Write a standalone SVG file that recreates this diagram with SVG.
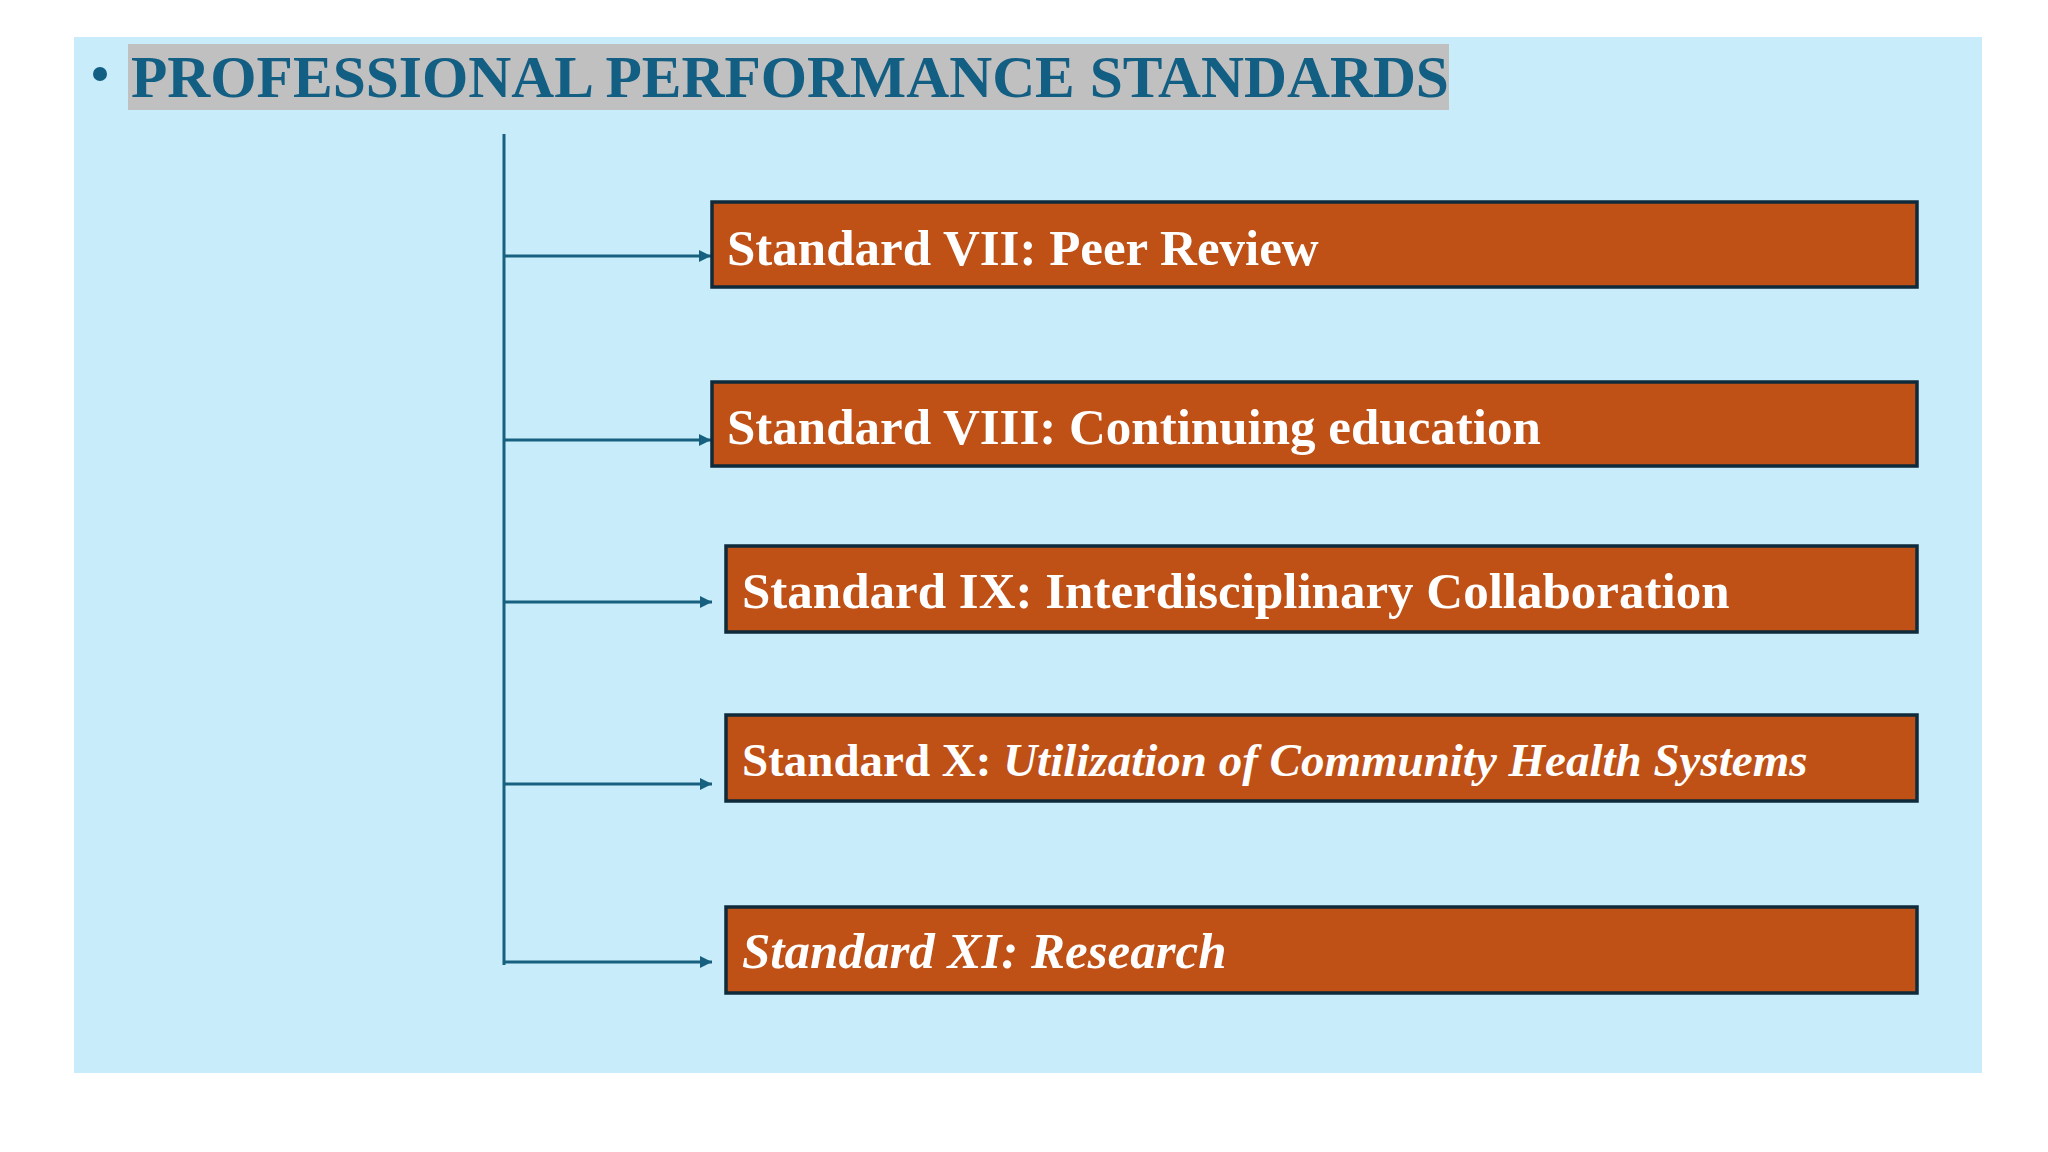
<svg xmlns="http://www.w3.org/2000/svg" width="2048" height="1152" viewBox="0 0 2048 1152">
  <defs>
    <marker id="arrow" viewBox="0 0 12 12" refX="12" refY="6" markerWidth="12" markerHeight="12" markerUnits="userSpaceOnUse" orient="auto">
      <path d="M0,0 L12,6 L0,12 Z" fill="#17607F"/>
    </marker>
    <style>
      .box { fill: #BF5016; stroke: #0F2A3A; stroke-width: 3.5; }
      .lbl { font-family: "Liberation Serif", "Times New Roman", serif; font-weight: bold; fill: #FFFFFF; font-size: 51px; }
      .it { font-style: italic; }
      .conn { stroke: #17607F; stroke-width: 3; fill: none; }
      .title { font-family: "Liberation Serif", "Times New Roman", serif; font-weight: bold; fill: #135E83; font-size: 59.5px; }
    </style>
  </defs>
  <rect x="0" y="0" width="2048" height="1152" fill="#FFFFFF"/>
  <rect x="74" y="37" width="1908" height="1036" fill="#C8ECFA"/>

  <g id="title">
    <circle cx="100" cy="74" r="7" fill="#135E83"/>
    <rect x="128" y="44" width="1321" height="66" fill="#C0C0C0"/>
    <text class="title" x="131" y="97">PROFESSIONAL PERFORMANCE STANDARDS</text>
  </g>

  <g id="connectors">
    <line class="conn" x1="504" y1="134" x2="504" y2="965"/>
    <line class="conn" x1="504" y1="256" x2="711" y2="256" marker-end="url(#arrow)"/>
    <line class="conn" x1="504" y1="440" x2="711" y2="440" marker-end="url(#arrow)"/>
    <line class="conn" x1="504" y1="602" x2="712" y2="602" marker-end="url(#arrow)"/>
    <line class="conn" x1="504" y1="784" x2="712" y2="784" marker-end="url(#arrow)"/>
    <line class="conn" x1="504" y1="962" x2="712" y2="962" marker-end="url(#arrow)"/>
  </g>

  <g id="std7">
    <rect class="box" x="712" y="202" width="1205" height="85"/>
    <text class="lbl" x="727" y="265">Standard VII: Peer Review</text>
  </g>
  <g id="std8">
    <rect class="box" x="712" y="382" width="1205" height="84"/>
    <text class="lbl" x="727" y="444">Standard VIII: Continuing education</text>
  </g>
  <g id="std9">
    <rect class="box" x="726" y="546" width="1191" height="86"/>
    <text class="lbl" x="742" y="608">Standard IX: Interdisciplinary Collaboration</text>
  </g>
  <g id="std10">
    <rect class="box" x="726" y="715" width="1191" height="86"/>
    <text class="lbl" x="742" y="776" style="font-size:47px">Standard X: <tspan class="it">Utilization of Community Health Systems</tspan></text>
  </g>
  <g id="std11">
    <rect class="box" x="726" y="907" width="1191" height="86"/>
    <text class="lbl it" x="742" y="968">Standard XI: Research</text>
  </g>
</svg>
